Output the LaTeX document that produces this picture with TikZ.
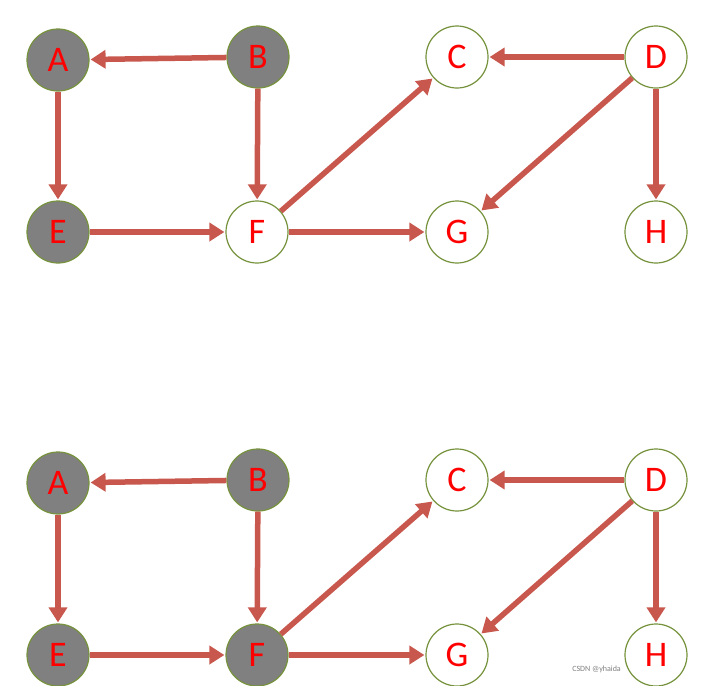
\documentclass[tikz,border=0pt]{standalone}
\usepackage{fontspec}
\setmainfont{Carlito}
\usetikzlibrary{arrows.meta}
\definecolor{edgec}{RGB}{200,88,78}
\definecolor{rimc}{RGB}{118,146,60}
\definecolor{fillg}{RGB}{128,128,128}
\tikzset{
  vtx/.style={circle,draw=rimc,line width=1.2pt,minimum size=62pt,inner sep=0pt,text=red,font=\fontsize{36}{36}\selectfont},
  grayv/.style={vtx,fill=fillg},
  whitev/.style={vtx,fill=white},
  arr/.style={draw=edgec,line width=5.5pt,-{Triangle[length=15pt,width=18pt]},shorten >=1pt}
}
\begin{document}
\begin{tikzpicture}[x=1pt,y=-1pt]
\useasboundingbox[fill=white] (0,0) rectangle (716,686);
% top
\node[grayv] (A1) at (58,60) {A};
\node[grayv] (B1) at (258,57) {B};
\node[whitev] (C1) at (457,57) {C};
\node[whitev] (D1) at (656,57) {D};
\node[grayv] (E1) at (58,232) {E};
\node[whitev] (F1) at (257,232) {F};
\node[whitev] (G1) at (457,232) {G};
\node[whitev] (H1) at (656,232) {H};
% bottom
\node[grayv] (A2) at (58,483) {A};
\node[grayv] (B2) at (258,480) {B};
\node[whitev] (C2) at (457,480) {C};
\node[whitev] (D2) at (656,480) {D};
\node[grayv] (E2) at (58,655) {E};
\node[grayv] (F2) at (257,655) {F};
\node[whitev] (G2) at (457,655) {G};
\node[whitev] (H2) at (656,655) {H};
\foreach \s in {1,2}{
  \draw[arr] (B\s) -- (A\s);
  \draw[arr] (A\s) -- (E\s);
  \draw[arr] (B\s) -- (F\s);
  \draw[arr] (E\s) -- (F\s);
  \draw[arr] (F\s) -- (C\s);
  \draw[arr] (F\s) -- (G\s);
  \draw[arr] (D\s) -- (C\s);
  \draw[arr] (D\s) -- (G\s);
  \draw[arr] (D\s) -- (H\s);
}
\node[text=gray,font=\fontsize{8}{8}\selectfont,anchor=east,inner sep=1pt] (wm) at (622,669) {CSDN @yhaida};
\end{tikzpicture}
\end{document}
